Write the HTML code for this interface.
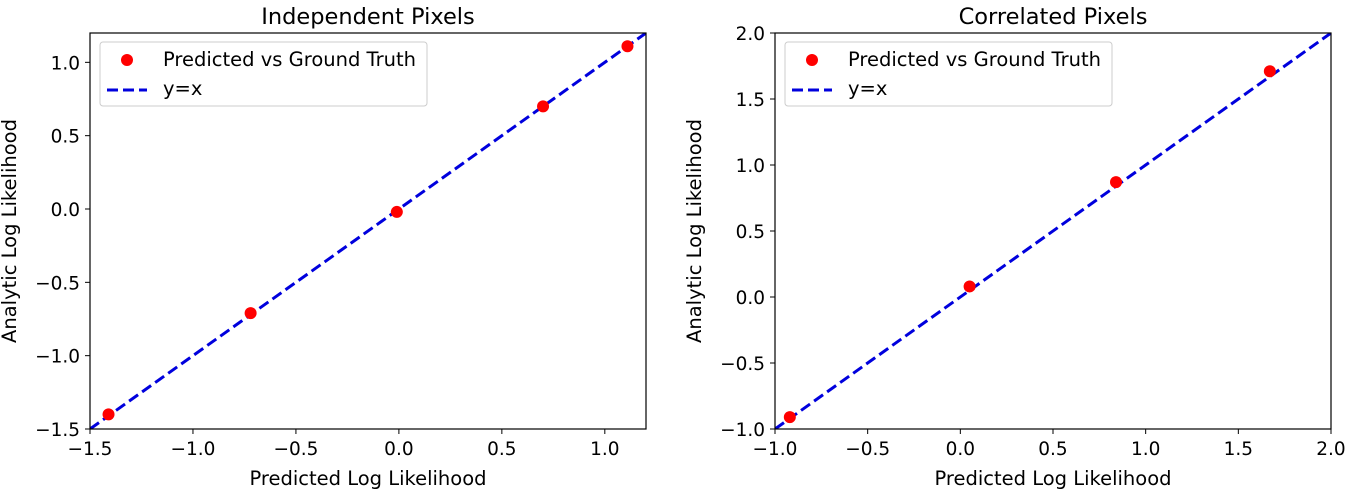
<!DOCTYPE html>
<html><head><meta charset="utf-8"><style>body{margin:0;background:#fff}svg{display:block;font-family:"DejaVu Sans","Liberation Sans",sans-serif}</style></head>
<body>
<svg id="c" width="1348" height="490"></svg>
<script>
const leftX=[-1.41,-0.72,-0.01,0.70,1.11];
const leftY=[-1.40,-0.71,-0.02,0.70,1.11];
const rightX=[-0.92,0.05,0.84,1.67];
const rightY=[-0.91,0.08,0.87,1.71];
const leftXTicks=[-1.5,-1.0,-0.5,0.0,0.5,1.0];
const leftYTicks=[-1.5,-1.0,-0.5,0.0,0.5,1.0];
const rightTicks=[-1.0,-0.5,0.0,0.5,1.0,1.5,2.0];
const NS='http://www.w3.org/2000/svg';
const svg=document.getElementById('c');
function el(t,a,p){const e=document.createElementNS(NS,t);for(const k in a)e.setAttribute(k,a[k]);(p||svg).appendChild(e);return e;}
function fmt(v){return (v<0?'\u2212':'')+Math.abs(v).toFixed(1);}
function panel(name,x0,x1,y0,y1,dx,dy,xs,ys,xt,yt,title){
  const g=el('g',{});
  
  
  const X=v=>x0+(v-dx[0])/(dx[1]-dx[0])*(x1-x0);
  const Y=v=>y1-(v-dy[0])/(dy[1]-dy[0])*(y1-y0);
  const cp='cp'+name;
  const d=el('clipPath',{id:cp},g);el('rect',{x:x0,y:y0,width:x1-x0,height:y1-y0},d);
  const lo=Math.max(dx[0],dy[0]),hi=Math.min(dx[1],dy[1]);
  const ln=el('line',{x1:X(lo),y1:Y(lo),x2:X(hi),y2:Y(hi),stroke:'#0000dd','stroke-width':3,'stroke-dasharray':'11,5','clip-path':`url(#${cp})`},g);
  
  
  xs.forEach((v,i)=>{const c=el('circle',{cx:X(v),cy:Y(ys[i]),r:6,fill:'#ff0000'},g);
    
    });
  el('rect',{x:x0,y:y0,width:x1-x0,height:y1-y0,fill:'none',stroke:'#000','stroke-width':1.2},g);
  xt.forEach(v=>{const x=X(v);el('line',{x1:x,y1:y1,x2:x,y2:y1+5,stroke:'#000'},g);
    const t=el('text',{x:x,y:y1+26,'text-anchor':'middle','font-size':18.5},g);t.textContent=fmt(v);
    
    });
  yt.forEach(v=>{const y=Y(v);el('line',{x1:x0-5,y1:y,x2:x0,y2:y,stroke:'#000'},g);
    const t=el('text',{x:x0-10,y:y+7,'text-anchor':'end','font-size':18.5},g);t.textContent=fmt(v);
    
    });
  const tt=el('text',{x:(x0+x1)/2,y:y0-9,'text-anchor':'middle','font-size':22.5},g);tt.textContent=title;
  
  
  const xl=el('text',{x:(x0+x1)/2,y:y1+56,'text-anchor':'middle','font-size':19.5},g);xl.textContent='Predicted Log Likelihood';
  
  
  const yl=el('text',{x:0,y:0,'text-anchor':'middle','font-size':19.5,transform:`translate(${x0-74},${(y0+y1)/2}) rotate(-90)`},g);yl.textContent='Analytic Log Likelihood';
  
  
  const lg=el('g',{},g);
  
  
  el('rect',{x:x0+10,y:y0+9,width:327,height:64,rx:3,fill:'#fff',stroke:'#ccc'},lg);
  el('circle',{cx:x0+37,cy:y0+27,r:6,fill:'#ff0000'},lg);
  let t=el('text',{x:x0+73,y:y0+33,'font-size':19.5},lg);t.textContent='Predicted vs Ground Truth';
  el('line',{x1:x0+17,y1:y0+57,x2:x0+57,y2:y0+57,stroke:'#0000dd','stroke-width':3,'stroke-dasharray':'11,5'},lg);
  t=el('text',{x:x0+73,y:y0+62,'font-size':19.5},lg);t.textContent='y=x';
}
panel('left-panel',90,646,33,429,[-1.5,1.2],[-1.5,1.2],leftX,leftY,leftXTicks,leftYTicks,'Independent Pixels');
panel('right-panel',775,1331,33,429,[-1,2],[-1,2],rightX,rightY,rightTicks,rightTicks,'Correlated Pixels');
</script>
</body></html>
